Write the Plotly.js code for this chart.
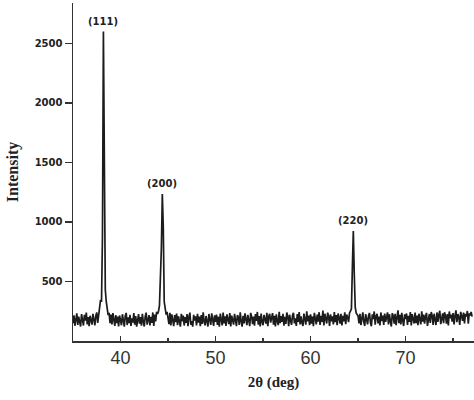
<!DOCTYPE html>
<html>
<head>
<meta charset="utf-8">
<script src="https://cdn.plot.ly/plotly-3.0.1.min.js"></script>
<style>
  html, body { margin: 0; padding: 0; background: #fff; }
  #xrd { width: 474px; height: 400px; }
</style>
</head>
<body>
<div id="xrd"></div>
<script>
// XRD pattern, one reading every 0.1 deg starting at 35.0 deg
var startAngle = 35.0;
var angleStep = 0.1;
var intensity = [
	150,215,128,190,232,135,205,160,122,226,   // 35
	158,130,220,172,238,140,200,125,212,165,   // 36
	138,228,185,131,210,240,152,225,260,345,   // 37
	330,880,2600,1630,430,330,255,218,236,150, // 38
	222,140,235,176,126,218,150,205,123,214,   // 39
	168,132,225,158,120,212,236,134,198,150,   // 40
	220,126,190,155,234,137,209,121,160,226,   // 41
	145,200,128,229,160,122,206,238,138,182,   // 42
	218,131,204,152,240,127,222,165,246,228,   // 43
	250,300,540,780,1235,960,330,262,222,244,  // 44
	205,142,236,130,224,170,124,217,158,231,   // 45
	133,208,150,121,228,166,214,130,200,152,   // 46
	226,125,203,238,137,166,120,219,172,207,   // 47
	130,229,155,206,124,218,143,240,165,132,   // 48
	210,150,122,227,190,136,233,163,127,215,   // 49
	160,222,135,204,120,230,171,131,238,147,   // 50
	207,126,224,160,142,235,123,213,178,138,   // 51
	228,152,124,218,200,135,241,166,121,211,   // 52
	148,232,190,133,220,162,125,236,204,141,   // 53
	206,129,226,170,244,137,210,122,231,158,   // 54
	132,220,183,146,237,125,208,228,155,192,   // 55
	234,138,212,123,224,168,133,246,150,209,   // 56
	160,229,128,204,143,239,206,125,221,170,   // 57
	136,214,236,148,190,126,227,160,243,140,   // 58
	207,152,127,230,195,137,250,165,213,132,   // 59
	225,145,206,124,236,172,140,221,163,242,   // 60
	135,212,160,255,130,229,186,147,238,204,   // 61
	127,224,165,208,140,244,158,218,133,231,   // 62
	196,145,228,131,211,164,240,142,222,200,   // 63
	158,236,250,270,620,924,560,285,236,220,   // 64
	210,148,229,134,203,240,160,127,226,192,   // 65
	140,212,236,156,124,224,185,248,138,208,   // 66
	229,147,206,130,240,168,214,136,231,162,   // 67
	200,241,140,225,164,122,234,210,145,228,   // 68
	133,207,258,150,219,139,237,172,126,224,   // 69
	185,231,136,212,160,244,131,226,196,147,   // 70
	238,150,214,133,229,190,140,249,162,221,   // 71
	145,209,236,127,204,227,152,243,212,136,   // 72
	229,188,134,240,160,219,254,141,206,232,   // 73
	150,242,210,146,227,131,248,190,222,163,   // 74
	234,140,212,258,158,226,200,135,245,211,   // 75
	170,238,148,229,205,252,146,233,216,244,   // 76
	205                                        // 77
];

// Peak labels (Miller indices)
var peakAngles = [38.2, 44.4, 64.5];
var peakHeights = [2600, 1235, 924];
var peakLabels = ['(111)', '(200)', '(220)'];

var xTickVals = [40, 50, 60, 70];
var yTickVals = [500, 1000, 1500, 2000, 2500];

var traces = [{
	type: 'scatter',
	mode: 'lines',
	x0: startAngle,
	dx: angleStep,
	y: intensity,
	line: { color: '#1c1c1c', width: 1.7 },
	hoverinfo: 'skip'
}];

var annotations = peakLabels.map(function (label, i) {
	return {
		x: peakAngles[i],
		y: peakHeights[i],
		xref: 'x',
		yref: 'y',
		text: label,
		showarrow: false,
		yanchor: 'bottom',
		yshift: 3,
		font: { family: 'DejaVu Sans', size: 10, color: '#222', weight: 'bold' }
	};
});

var layout = {
	width: 474,
	height: 400,
	margin: { l: 73, r: 0, t: 3, b: 59 },
	paper_bgcolor: '#fff',
	plot_bgcolor: '#fff',
	showlegend: false,
	xaxis: {
		range: [35, 77.2],
		tickvals: xTickVals,
		ticks: 'inside',
		ticklen: 5,
		tickwidth: 1.3,
		tickcolor: '#333',
		minor: { tickvals: [45, 55, 65, 75], ticks: 'inside', ticklen: 3, tickcolor: '#333' },
		showline: true,
		linecolor: '#333',
		linewidth: 1.5,
		showgrid: false,
		zeroline: false,
		tickfont: { family: 'Liberation Sans', size: 18, color: '#333' },
		title: {
			text: '2θ (deg)',
			font: { family: 'Liberation Serif', size: 15, color: '#222', weight: 'bold' },
			standoff: 9
		}
	},
	yaxis: {
		range: [0, 2840],
		tickvals: yTickVals,
		ticks: 'outside',
		ticklen: 7,
		tickwidth: 1.3,
		tickcolor: '#333',
		showline: true,
		linecolor: '#333',
		linewidth: 1.5,
		showgrid: false,
		zeroline: false,
		tickfont: { family: 'DejaVu Sans', size: 10, color: '#222', weight: 'bold' },
		title: {
			text: 'Intensity',
			font: { family: 'Liberation Serif', size: 16, color: '#222', weight: 'bold' },
			standoff: 12
		}
	},
	annotations: annotations
};

Plotly.newPlot('xrd', traces, layout, { displayModeBar: false, staticPlot: true });
</script>
</body>
</html>
